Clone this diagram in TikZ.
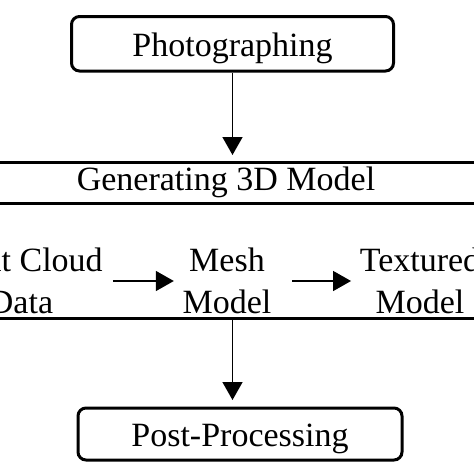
\documentclass[tikz,border=0pt]{standalone}
\usepackage{fontspec}
\setmainfont{Liberation Serif}
\usetikzlibrary{arrows.meta}
\begin{document}
\begin{tikzpicture}[x=1pt,y=-1pt,
  roundbox/.style={draw, line width=3pt, rounded corners=8pt, inner sep=0pt},
  lbl/.style={font=\fontsize{34}{41.6}\selectfont, inner sep=0pt, anchor=base},
  stage/.style={font=\fontsize{34}{41.6}\selectfont, inner sep=0pt, align=center},
  band/.style={line width=3pt},
  arr/.style={line width=1.5pt, -{Triangle[length=18pt,width=20pt]}}]
\useasboundingbox (0,0) rectangle (474,474);
\clip (0,0) rectangle (474,474);
% top box
\node[roundbox, minimum width=322pt, minimum height=54.5pt] (photo) at (232.5,43.75) {};
\node[lbl] (phototext) at (232.5,56.7) {Photographing};
% generating band
\node[draw, band, minimum width=520pt, minimum height=155.7pt, inner sep=0pt] (gen) at (237,240.15) {};
\coordinate (sepL) at (-20,203.3);
\coordinate (sepR) at (494,203.3);
\draw[band] (sepL) -- (sepR);
\node[lbl] (gentext) at (226,190.7) {Generating 3D Model};
% stages
\node[stage] (pcd) at (21,281) {Point Cloud\\Data};
\node[stage] (mesh) at (227,281) {Mesh\\Model};
\node[stage] (tex) at (420,281) {Textured\\Model};
\draw[arr, shorten <=10pt, shorten >=8.6pt] (pcd) -- (mesh);
\draw[arr, shorten <=20.6pt, shorten >=8.6pt] (mesh) -- (tex);
% bottom box
\node[roundbox, minimum width=324pt, minimum height=52pt] (post) at (240,434) {};
\node[lbl] (posttext) at (240,446.7) {Post-Processing};
% vertical arrows
\draw[arr, shorten >=5.8pt] (photo.south) -- (photo.south |- gen.north);
\draw[arr, shorten >=6.5pt] (photo.south |- gen.south) -- (photo.south |- post.north);
\end{tikzpicture}
\end{document}
